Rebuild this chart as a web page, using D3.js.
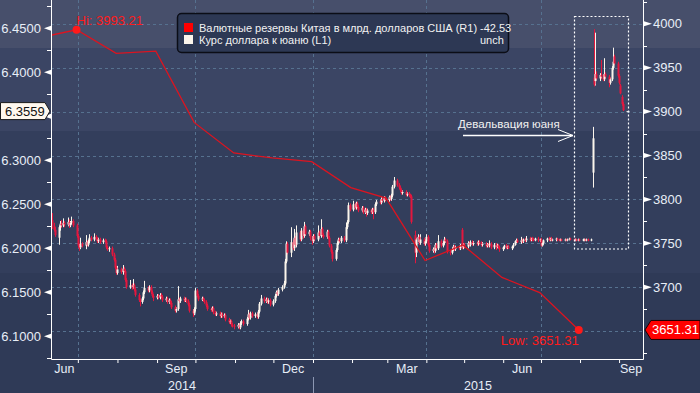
<!DOCTYPE html>
<html><head><meta charset="utf-8">
<script src="https://cdn.jsdelivr.net/npm/d3@7/dist/d3.min.js"></script>
<style>body{margin:0;background:#2f3a57;}svg{display:block;}</style>
</head><body><svg id="chart" width="700" height="393"></svg>
<script>
// ---- Data ----
const reserveDates = ["2014-05-31","2014-06-30","2014-07-31","2014-08-31","2014-09-30","2014-10-31","2014-11-30","2014-12-31","2015-01-31","2015-02-28","2015-03-31","2015-04-30","2015-05-31","2015-06-30","2015-07-31"];
const reserveValues = [3983.89,3993.21,3966.34,3968.80,3887.70,3852.91,3847.25,3843.02,3813.42,3801.50,3730.38,3748.14,3711.14,3693.84,3651.31];
const reserveChange = "-42.53";
const rateStart = "2014-06-11"; // consecutive weekdays from here
const rateOpen = [
6.232,6.225,6.221,6.212,6.224, 6.228,6.226,6.229,6.227,6.230, 6.226,6.229,6.231,6.226,6.214, 6.203,6.201,6.205,6.203,6.207,
6.204,6.208,6.212,6.210,6.213, 6.211,6.208,6.210,6.207,6.209, 6.208,6.201,6.199,6.200,6.193, 6.187,6.178,6.172,6.176,6.173,
6.177,6.174,6.164,6.156,6.158, 6.156,6.158,6.153,6.147,6.141, 6.139,6.143,6.150,6.155,6.152, 6.156,6.150,6.146,6.144,6.146,
6.144,6.147,6.145,6.141,6.143, 6.139,6.141,6.138,6.133,6.129, 6.131,6.142,6.140,6.143,6.141, 6.142,6.140,6.136,6.129,6.126,
6.131,6.152,6.146,6.142,6.143, 6.141,6.139,6.135,6.131,6.130, 6.132,6.127,6.125,6.126,6.123, 6.125,6.123,6.124,6.119,6.116,
6.117,6.113,6.112,6.111,6.113, 6.110,6.115,6.117,6.114,6.120, 6.125,6.121,6.126,6.123,6.125, 6.122,6.128,6.137,6.143,6.140,
6.142,6.139,6.141,6.136,6.140, 6.146,6.150,6.148,6.153,6.156, 6.160,6.185,6.205,6.195,6.207, 6.200,6.212,6.204,6.218,6.210,
6.220,6.214,6.225,6.216,6.219, 6.212,6.208,6.214,6.210,6.218, 6.214,6.222,6.215,6.213,6.219, 6.212,6.203,6.196,6.188,6.198,
6.206,6.210,6.208,6.212,6.209, 6.224,6.230,6.249,6.244,6.250, 6.246,6.251,6.247,6.243,6.246, 6.241,6.244,6.240,6.243,6.241,
6.244,6.241,6.250,6.253,6.252, 6.256,6.254,6.257,6.255,6.258, 6.256,6.260,6.270,6.277,6.272, 6.269,6.266,6.263,6.264,6.261,
6.262,6.260,6.259,6.215,6.195, 6.210,6.213,6.206,6.210,6.205, 6.208,6.213,6.204,6.197,6.199, 6.197,6.204,6.200,6.208,6.203,
6.206,6.210,6.208,6.196,6.195, 6.199,6.202,6.199,6.201,6.200, 6.221,6.201,6.204,6.202,6.206, 6.204,6.207,6.205,6.206,6.205,
6.207,6.206,6.204,6.205,6.203, 6.204,6.203,6.205,6.201,6.204, 6.202,6.203,6.201,6.199,6.201, 6.203,6.201,6.202,6.200,6.202,
6.204,6.208,6.209,6.207,6.209, 6.208,6.210,6.209,6.211,6.210, 6.211,6.210,6.209,6.211,6.209, 6.210,6.203,6.206,6.209,6.211,
6.210,6.211,6.209,6.210,6.211, 6.210,6.209,6.210,6.209,6.210, 6.209,6.210,6.211,6.210,6.209, 6.210,6.209,6.210,6.209,6.210,
6.210,6.209,6.210,6.209,6.286, 6.394,6.390,6.398,6.393,6.397, 6.395,6.392,6.398,6.395,6.388, 6.392,6.405,6.418,6.410,6.396,
6.385,6.372,6.364,6.3559,6.3559];
const rateHigh = [
6.240,6.229,6.224,6.226,6.231, 6.232,6.234,6.231,6.235,6.233, 6.231,6.236,6.233,6.228,6.216, 6.206,6.212,6.207,6.215,6.209,
6.210,6.216,6.214,6.217,6.215, 6.213,6.212,6.212,6.211,6.211, 6.210,6.203,6.202,6.202,6.195, 6.189,6.180,6.180,6.178,6.181,
6.179,6.176,6.166,6.164,6.160, 6.165,6.160,6.155,6.149,6.143, 6.145,6.152,6.163,6.157,6.158, 6.158,6.152,6.148,6.148,6.148,
6.149,6.149,6.147,6.145,6.145, 6.143,6.143,6.140,6.135,6.133, 6.157,6.144,6.145,6.145,6.144, 6.144,6.142,6.138,6.131,6.133,
6.155,6.154,6.148,6.145,6.145, 6.143,6.141,6.137,6.133,6.134, 6.134,6.129,6.128,6.128,6.127, 6.127,6.126,6.126,6.121,6.119,
6.119,6.115,6.114,6.115,6.115, 6.117,6.119,6.119,6.122,6.130, 6.127,6.128,6.128,6.127,6.127, 6.130,6.139,6.147,6.145,6.144,
6.144,6.143,6.143,6.142,6.148, 6.152,6.152,6.155,6.158,6.163, 6.188,6.208,6.207,6.224,6.210, 6.222,6.214,6.226,6.220,6.223,
6.222,6.230,6.227,6.221,6.221, 6.214,6.216,6.216,6.226,6.220, 6.233,6.224,6.217,6.221,6.221, 6.214,6.205,6.198,6.200,6.208,
6.212,6.212,6.214,6.214,6.229, 6.232,6.252,6.251,6.254,6.252, 6.253,6.253,6.249,6.248,6.248, 6.246,6.246,6.245,6.245,6.246,
6.246,6.252,6.255,6.255,6.258, 6.258,6.259,6.259,6.260,6.260, 6.262,6.272,6.281,6.279,6.274, 6.271,6.268,6.266,6.266,6.264,
6.264,6.262,6.261,6.220,6.212, 6.216,6.215,6.216,6.212,6.210, 6.216,6.215,6.206,6.201,6.201, 6.206,6.206,6.215,6.210,6.208,
6.213,6.212,6.210,6.198,6.201, 6.204,6.204,6.203,6.203,6.205, 6.223,6.206,6.206,6.208,6.208, 6.209,6.209,6.208,6.208,6.209,
6.209,6.208,6.207,6.207,6.206, 6.206,6.209,6.207,6.206,6.206, 6.205,6.205,6.203,6.202,6.204, 6.205,6.203,6.204,6.203,6.206,
6.209,6.211,6.211,6.213,6.211, 6.211,6.212,6.214,6.213,6.212, 6.213,6.212,6.212,6.213,6.211, 6.212,6.207,6.210,6.212,6.213,
6.212,6.213,6.211,6.212,6.212, 6.211,6.211,6.211,6.211,6.211, 6.211,6.212,6.212,6.211,6.211, 6.211,6.211,6.211,6.211,6.211,
6.211,6.211,6.211,6.211,6.338, 6.449,6.445,6.401,6.399,6.414, 6.398,6.416,6.400,6.397,6.394, 6.407,6.428,6.420,6.412,6.398,
6.387,6.374,6.366,6.3559,6.3559];
const rateLow = [
6.222,6.219,6.213,6.204,6.220, 6.223,6.224,6.224,6.225,6.223, 6.224,6.227,6.224,6.212,6.200, 6.197,6.199,6.201,6.199,6.202,
6.202,6.206,6.208,6.208,6.209, 6.206,6.206,6.205,6.205,6.206, 6.199,6.197,6.196,6.191,6.185, 6.176,6.170,6.170,6.171,6.170,
6.172,6.162,6.154,6.154,6.153, 6.154,6.151,6.145,6.139,6.134, 6.137,6.141,6.148,6.150,6.150, 6.148,6.144,6.140,6.142,6.142,
6.142,6.143,6.139,6.139,6.137, 6.137,6.136,6.131,6.127,6.127, 6.129,6.138,6.138,6.139,6.139, 6.138,6.134,6.127,6.122,6.124,
6.128,6.144,6.140,6.140,6.139, 6.137,6.133,6.129,6.128,6.128, 6.125,6.123,6.123,6.121,6.121, 6.121,6.121,6.117,6.114,6.114,
6.111,6.110,6.108,6.109,6.108, 6.108,6.113,6.112,6.112,6.118, 6.119,6.119,6.121,6.121,6.120, 6.120,6.126,6.135,6.138,6.138,
6.137,6.137,6.134,6.134,6.138, 6.144,6.146,6.146,6.151,6.154, 6.158,6.183,6.193,6.190,6.198, 6.197,6.202,6.201,6.208,6.208,
6.211,6.212,6.214,6.214,6.209, 6.204,6.206,6.208,6.208,6.212, 6.212,6.213,6.211,6.211,6.210, 6.201,6.194,6.185,6.186,6.196,
6.204,6.206,6.206,6.207,6.207, 6.222,6.228,6.242,6.242,6.244, 6.244,6.245,6.241,6.241,6.239, 6.239,6.236,6.238,6.239,6.239,
6.233,6.239,6.248,6.250,6.250, 6.252,6.252,6.253,6.253,6.254, 6.254,6.258,6.268,6.270,6.267, 6.264,6.261,6.261,6.259,6.259,
6.258,6.257,6.228,6.183,6.190, 6.207,6.204,6.204,6.203,6.203, 6.206,6.202,6.195,6.195,6.194, 6.195,6.198,6.198,6.201,6.201,
6.204,6.206,6.194,6.192,6.193, 6.197,6.197,6.197,6.198,6.198, 6.199,6.199,6.200,6.200,6.202, 6.202,6.203,6.203,6.203,6.203,
6.204,6.202,6.202,6.201,6.201, 6.201,6.201,6.199,6.199,6.198, 6.200,6.199,6.196,6.197,6.199, 6.199,6.199,6.199,6.198,6.200,
6.203,6.206,6.206,6.205,6.206, 6.206,6.207,6.207,6.208,6.208, 6.208,6.208,6.208,6.207,6.207, 6.202,6.202,6.204,6.207,6.208,
6.208,6.208,6.208,6.208,6.208, 6.208,6.208,6.208,6.208,6.208, 6.208,6.209,6.209,6.208,6.208, 6.208,6.208,6.208,6.208,6.208,
6.208,6.208,6.208,6.208,6.269, 6.384,6.385,6.391,6.390,6.392, 6.390,6.390,6.393,6.383,6.386, 6.390,6.403,6.408,6.394,6.386,
6.375,6.362,6.356,6.3559,6.3559];
const rateClose = [
6.225,6.221,6.215,6.224,6.228, 6.226,6.229,6.227,6.230,6.226, 6.229,6.231,6.226,6.214,6.203, 6.201,6.205,6.203,6.207,6.204,
6.208,6.212,6.210,6.213,6.211, 6.208,6.210,6.207,6.209,6.208, 6.201,6.199,6.200,6.193,6.187, 6.178,6.172,6.176,6.173,6.177,
6.174,6.164,6.156,6.158,6.156, 6.158,6.153,6.147,6.141,6.139, 6.143,6.150,6.155,6.152,6.156, 6.150,6.146,6.144,6.146,6.144,
6.147,6.145,6.141,6.143,6.139, 6.141,6.138,6.133,6.129,6.131, 6.142,6.140,6.143,6.141,6.142, 6.140,6.136,6.129,6.126,6.131,
6.152,6.146,6.142,6.143,6.141, 6.139,6.135,6.131,6.130,6.132, 6.127,6.125,6.126,6.123,6.125, 6.123,6.124,6.119,6.116,6.117,
6.113,6.112,6.111,6.113,6.110, 6.115,6.117,6.114,6.120,6.125, 6.121,6.126,6.123,6.125,6.122, 6.128,6.137,6.143,6.140,6.142,
6.139,6.141,6.136,6.140,6.146, 6.150,6.148,6.153,6.156,6.160, 6.185,6.205,6.195,6.207,6.200, 6.212,6.204,6.218,6.210,6.220,
6.214,6.225,6.216,6.219,6.212, 6.208,6.214,6.210,6.218,6.214, 6.222,6.215,6.213,6.219,6.212, 6.203,6.196,6.188,6.198,6.206,
6.210,6.208,6.212,6.209,6.224, 6.230,6.249,6.244,6.250,6.246, 6.251,6.247,6.243,6.246,6.241, 6.244,6.240,6.243,6.241,6.244,
6.241,6.250,6.253,6.252,6.256, 6.254,6.257,6.255,6.258,6.256, 6.260,6.270,6.277,6.272,6.269, 6.266,6.263,6.264,6.261,6.262,
6.260,6.259,6.230,6.195,6.210, 6.213,6.206,6.210,6.205,6.208, 6.213,6.204,6.197,6.199,6.197, 6.204,6.200,6.208,6.203,6.206,
6.210,6.208,6.196,6.195,6.199, 6.202,6.199,6.201,6.200,6.203, 6.201,6.204,6.202,6.206,6.204, 6.207,6.205,6.206,6.205,6.207,
6.206,6.204,6.205,6.203,6.204, 6.203,6.205,6.201,6.204,6.202, 6.203,6.201,6.199,6.201,6.203, 6.201,6.202,6.200,6.202,6.204,
6.208,6.209,6.207,6.209,6.208, 6.210,6.209,6.211,6.210,6.211, 6.210,6.209,6.211,6.209,6.210, 6.203,6.206,6.209,6.211,6.210,
6.211,6.209,6.210,6.211,6.210, 6.209,6.210,6.209,6.210,6.209, 6.210,6.211,6.210,6.209,6.210, 6.209,6.210,6.209,6.210,6.210,
6.209,6.210,6.209,6.210,6.325, 6.386,6.398,6.393,6.397,6.395, 6.392,6.398,6.395,6.388,6.392, 6.405,6.412,6.410,6.396,6.388,
6.376,6.364,6.357,6.3559,6.3559];
const rateLast = 6.3559;
const leftTicks = [6.10,6.15,6.20,6.25,6.30,6.35,6.40,6.45];
const leftLabelled = [6.10,6.15,6.20,6.25,6.30,6.40,6.45]; // 6.35 is hidden under the last-value tag
const leftMinor = [6.075,6.125,6.175,6.225,6.275,6.325,6.375,6.425,6.475];
const rightTicks = [3700,3750,3800,3850,3900,3950,4000];
const rightGrid = [3650,3700,3750,3800,3850,3900,3950,4000];
const rightMinor = [3625,3675,3725,3775,3825,3875,3925,3975,4025];
const monthLabelStarts = ["2014-06-01","2014-09-01","2014-12-01","2015-03-01","2015-06-01","2015-09-01"];
const monthLabels = ["Jun","Sep","Dec","Mar","Jun","Sep"];
const yearLabels = ["2014","2015"];
const legendNames = ["Валютные резервы Китая в млрд. долларов США (R1)","Курс доллара к юаню (L1)"];
const legendValues = [reserveChange,"unch"];
const annotationText = "Девальвация юаня";
const boxDates = ["2015-07-27","2015-09-08"];

// ---- Layout ----
const W=700,H=393,X0=51,X1=643,Y0=0,Y1=359;
const FONT='"Liberation Sans", Arial, sans-serif';
const parse=d3.timeParse("%Y-%m-%d");
const svg=d3.select("#chart");

const x=d3.scaleTime().domain([parse("2014-06-10"),parse("2015-01-01"),parse("2015-09-20")]).range([X0,313,X1]);
const yL=d3.scaleLinear().domain([6.2,6.45]).range([248.3,28.3]);
const yR=d3.scaleLinear().domain([3750,4000]).range([243.3,23.8]);

// background bands
const bands=[[0,48,"#474f6b"],[48,131,"#3b4564"],[131,273,"#333e5c"],[273,393,"#2f3a57"]];
svg.selectAll("rect.band").data(bands).join("rect").attr("class","band")
  .attr("x",0).attr("y",d=>d[0]).attr("width",W).attr("height",d=>d[1]-d[0]).attr("fill",d=>d[2]);

// grid
const gridColor="#56718f";
svg.append("g").selectAll("line").data(rightGrid).join("line")
  .attr("x1",X0).attr("x2",X1).attr("y1",d=>Math.round(yR(d))+0.5).attr("y2",d=>Math.round(yR(d))+0.5)
  .attr("stroke",gridColor).attr("stroke-dasharray","3,3");
const quarters=d3.timeMonth.every(3).range(parse("2014-07-01"),parse("2015-09-02"));
svg.append("g").selectAll("line").data(quarters).join("line")
  .attr("x1",d=>Math.round(x(d))+0.5).attr("x2",d=>Math.round(x(d))+0.5).attr("y1",Y0).attr("y2",Y1)
  .attr("stroke",gridColor).attr("stroke-dasharray","3,3");

// clip
svg.append("defs").append("clipPath").attr("id","plot").append("rect")
  .attr("x",X0+1).attr("y",Y0).attr("width",X1-X0-1).attr("height",Y1-Y0);

// candles
const rateDates=[];
for(let d=parse(rateStart);rateDates.length<rateClose.length;d=d3.timeDay.offset(d,1)){
  if(d.getDay()!==0&&d.getDay()!==6) rateDates.push(d);
}
const candles=rateClose.map((c,i)=>({date:rateDates[i],o:rateOpen[i],h:rateHigh[i],l:rateLow[i],c}));
const cg=svg.append("g").attr("clip-path","url(#plot)");
const up="#fbf5ec", down="#e3173e";
cg.selectAll("line.wick").data(candles).join("line").attr("class","wick")
  .attr("x1",d=>Math.round(x(d.date))+0.5).attr("x2",d=>Math.round(x(d.date))+0.5)
  .attr("y1",d=>yL(d.h)).attr("y2",d=>yL(d.l))
  .attr("stroke",d=>d.c>=d.o?up:down).attr("stroke-width",1);
cg.selectAll("rect.body").data(candles).join("rect").attr("class","body")
  .attr("x",d=>Math.round(x(d.date))-0.5).attr("width",2)
  .attr("y",d=>yL(Math.max(d.o,d.c))).attr("height",d=>Math.max(1,Math.abs(yL(d.o)-yL(d.c))))
  .attr("fill",d=>d.c>=d.o?up:down);

// reserves line
const reserves=reserveDates.map((d,i)=>({date:parse(d),v:reserveValues[i]}));
const lg=svg.append("g").attr("clip-path","url(#plot)");
lg.append("path").datum(reserves).attr("fill","none").attr("stroke","#dc1420").attr("stroke-width",1.3)
  .attr("d",d3.line().x(d=>x(d.date)).y(d=>yR(d.v)));
const hi=reserves.reduce((a,b)=>b.v>a.v?b:a), lo=reserves.reduce((a,b)=>b.v<a.v?b:a);
const hiLoColor="#ff1a1a";
[hi,lo].forEach(p=>svg.append("circle").attr("cx",x(p.date)).attr("cy",yR(p.v)).attr("r",4).attr("fill",hiLoColor));
svg.append("text").attr("x",x(hi.date)).attr("y",yR(hi.v)-5).attr("fill",hiLoColor)
  .style("font",`13px ${FONT}`).text("Hi: "+hi.v.toFixed(2));
svg.append("text").attr("x",x(lo.date)).attr("y",yR(lo.v)+15).attr("text-anchor","end").attr("fill",hiLoColor)
  .style("font",`13px ${FONT}`).text("Low: "+lo.v.toFixed(2));

// axes lines
const axisColor="#ffffff", labelColor="#e8eef7";
svg.append("path").attr("d",`M${X0+0.5},${Y0}V${Y1+0.5}H${X1+0.5}V${Y0}`).attr("fill","none").attr("stroke",axisColor);

// left axis
const gL=svg.append("g").attr("transform",`translate(${X0},0)`)
  .call(d3.axisLeft(yL).tickValues(leftLabelled).tickSize(0).tickPadding(10).tickFormat(d3.format(".4f")));
gL.select(".domain").remove();
gL.selectAll("text").attr("fill",labelColor).style("font",`13px ${FONT}`);
svg.append("g").selectAll("path").data(leftTicks).join("path")
  .attr("d",d=>`M${X0},${yL(d)-2.5}L${X0-7},${yL(d)}L${X0},${yL(d)+2.5}Z`).attr("fill",axisColor);
svg.append("g").selectAll("line").data(leftMinor).join("line")
  .attr("x1",X0-4).attr("x2",X0).attr("y1",d=>Math.round(yL(d))+0.5).attr("y2",d=>Math.round(yL(d))+0.5).attr("stroke",axisColor);

// right axis
const gR=svg.append("g").attr("transform",`translate(${X1},0)`)
  .call(d3.axisRight(yR).tickValues(rightTicks).tickSize(0).tickPadding(10).tickFormat(d3.format("d")));
gR.select(".domain").remove();
gR.selectAll("text").attr("fill",labelColor).style("font",`13px ${FONT}`);
svg.append("g").selectAll("path").data(rightTicks).join("path")
  .attr("d",d=>`M${X1+1},${yR(d)-2.5}L${X1+9},${yR(d)}L${X1+1},${yR(d)+2.5}Z`).attr("fill",axisColor);
svg.append("g").selectAll("line").data(rightMinor).join("line")
  .attr("x1",X1).attr("x2",X1+4).attr("y1",d=>Math.round(yR(d))+0.5).attr("y2",d=>Math.round(yR(d))+0.5).attr("stroke",axisColor);

// bottom axis
const monthStarts=d3.timeMonth.range(parse("2014-07-01"),parse("2015-09-02"));
const gB=svg.append("g").attr("transform",`translate(0,${Y1})`)
  .call(d3.axisBottom(x).tickValues(monthStarts).tickSize(4).tickFormat(""));
gB.select(".domain").remove();
gB.selectAll("line").attr("stroke",axisColor);
monthLabelStarts.forEach((m,i)=>{
  const a=parse(m), b=d3.timeMonth.offset(a,1);
  const xa=Math.max(X0,x(a)), xb=Math.min(X1,x(b));
  svg.append("text").attr("x",(xa+xb)/2).attr("y",373).attr("text-anchor","middle")
    .attr("fill",labelColor).style("font",`12.5px ${FONT}`).text(monthLabels[i]);
});
const yearBreak=x(parse("2015-01-01"));
[[X0,yearBreak],[yearBreak,X1]].forEach((r,i)=>{
  svg.append("text").attr("x",(r[0]+r[1])/2).attr("y",390).attr("text-anchor","middle")
    .attr("fill",labelColor).style("font",`12.5px ${FONT}`).text(yearLabels[i]);
});
svg.append("line").attr("x1",Math.round(yearBreak)+0.5).attr("x2",Math.round(yearBreak)+0.5)
  .attr("y1",377).attr("y2",393).attr("stroke","#8c97b2");

// legend
const leg=svg.append("g");
leg.append("rect").attr("x",177.5).attr("y",13.5).attr("width",331).attr("height",39).attr("rx",4)
  .attr("fill","#2d3854").attr("stroke","#0b0d16").attr("stroke-width",1.5);
const legColors=["#ff0000","#fbf5ec"];
legendNames.forEach((n,i)=>{
  const yy=23+i*12;
  leg.append("rect").attr("x",184).attr("y",yy).attr("width",9).attr("height",9).attr("fill",legColors[i]);
  leg.append("text").attr("x",199).attr("y",yy+8.5).attr("fill","#f2f2f2").style("font",`11px ${FONT}`).text(n);
  leg.append("text").attr("x",480).attr("y",yy+8.5).attr("fill","#f2f2f2").style("font",`11px ${FONT}`).text(legendValues[i]);
});

// dotted box around devaluation
const boxX0=x(parse(boxDates[0])), boxX1=x(parse(boxDates[1]));
svg.append("rect").attr("x",Math.round(boxX0)+0.5).attr("y",16.5).attr("width",Math.round(boxX1-boxX0)).attr("height",232.5)
  .attr("fill","none").attr("stroke","#ffffff").attr("stroke-dasharray","2,2").attr("stroke-width",1.2);

// annotation arrow
const ay=135.5, ax1=Math.round(boxX0)-1;
svg.append("line").attr("x1",463).attr("x2",ax1).attr("y1",ay).attr("y2",ay).attr("stroke","#ffffff").attr("stroke-width",1.3);
svg.append("path").attr("d",`M${ax1-15},${ay-6}L${ax1},${ay}L${ax1-15},${ay+6}`).attr("fill","none").attr("stroke","#ffffff").attr("stroke-width",1);
svg.append("text").attr("x",458).attr("y",128).attr("fill","#f2f2f2").style("font",`11.5px ${FONT}`).text(annotationText);

// current value tags
const ly=yL(rateLast);
svg.append("path").attr("d",`M0.5,${ly-8.5}H45L50,${ly}L45,${ly+8.5}H0.5Z`).attr("fill","#fff8ee").attr("stroke","#1a1a1a");
svg.append("text").attr("x",5).attr("y",ly+4.5).attr("fill","#111").style("font",`13px ${FONT}`).text(rateLast.toFixed(4));
const ry=yR(lo.v);
svg.append("path").attr("d",`M645,${ry}L651,${ry-9.5}H700V${ry+9.5}H651Z`).attr("fill","#ff0000").attr("stroke","#200000");
svg.append("text").attr("x",652).attr("y",ry+4.5).attr("fill","#ffffff").style("font",`13px ${FONT}`).text(lo.v.toFixed(2));
</script>
</body></html>
